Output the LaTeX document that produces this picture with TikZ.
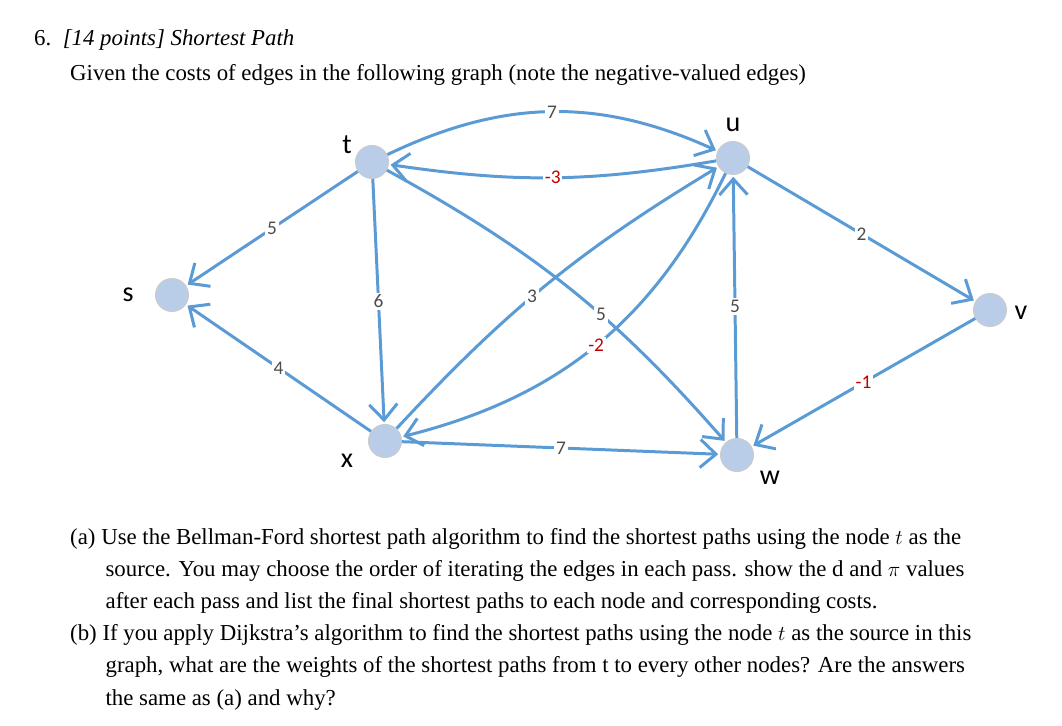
\documentclass[tikz,border=0pt]{standalone}
\usepackage{fontspec}
\setmainfont{Liberation Serif}
\newfontfamily\calfont{Carlito}
\usetikzlibrary{arrows.meta}
\definecolor{eb}{RGB}{91,155,213}
\definecolor{nf}{RGB}{185,205,232}
\definecolor{lr}{RGB}{192,0,0}
\begin{document}
\begin{tikzpicture}[x=0.02cm,y=-0.02cm,
  vx/.style={circle,minimum size=0.66cm,inner sep=0pt,fill=nf,draw=black!20,line width=0.6pt},
  ed/.style={draw=eb,line width=1.7pt,-{Straight Barb[length=9pt,width=16pt,line width=1.7pt]},shorten >=1pt},
  el/.style={fill=white,inner sep=1pt,font=\calfont\fontsize{11}{13}\selectfont,text=black!70},
  neg/.style={el,text=lr},
  nl/.style={font=\calfont\fontsize{16}{18}\selectfont},
  tx/.style={anchor=west,font=\fontsize{13}{18.3}\selectfont,align=left}]
\useasboundingbox (0,0) rectangle (1062,726);
\node[vx] (t) at (372,162) {};
\node[vx] (u) at (733,158) {};
\node[vx] (s) at (172,295) {};
\node[vx] (v) at (990,310) {};
\node[vx] (x) at (385,441) {};
\node[vx] (w) at (737,455) {};
\node[nl] (lt) at (347,145) {t};
\node[nl] (lu) at (733,125) {u};
\node[nl] (ls) at (128,295) {s};
\node[nl] (lv) at (1021,313) {v};
\node[nl] (lx) at (347,461) {x};
\node[nl] (lw) at (770,478) {w};
\draw[ed] (t) to[bend left=25] node[el] {7} (u);
\draw[ed] (u) to[bend left=9] node[neg] {-3} (t);
\draw[ed] (t) -- node[el] {5} (s);
\draw[ed] (x) -- node[el] {4} (s);
\draw[ed] (t) -- node[el] {6} (x);
\draw[ed] (x) to[bend left=8] node[el,pos=0.45] {3} (u);
\draw[ed] (u) to[bend left=25] node[neg] {-2} (x);
\draw[ed] (t) to[bend left=10] node[el,pos=0.6] {5} (w);
\draw[ed] (w) -- node[el] {5} (u);
\draw[ed] (u) -- node[el] {2} (v);
\draw[ed] (v) -- node[neg] {-1} (w);
\draw[ed] (x) -- node[el] {7} (w);
\node[tx] (h) at (28,40) {6.\enspace\textit{[14 points] Shortest Path}};
\node[tx] (g) at (64,75) {Given the costs of edges in the following graph (note the negative-valued edges)};
\node[tx,anchor=north west] (pa) at (64,522) {(a)\ Use the Bellman-Ford shortest path algorithm to find the shortest paths using the node $t$ as the\\
\hspace*{1.55em}source. You may choose the order of iterating the edges in each pass. show the d and $\pi$ values\\
\hspace*{1.55em}after each pass and list the final shortest paths to each node and corresponding costs.\\
(b)\ If you apply Dijkstra's algorithm to find the shortest paths using the node $t$ as the source in this\\
\hspace*{1.55em}graph, what are the weights of the shortest paths from t to every other nodes? Are the answers\\
\hspace*{1.55em}the same as (a) and why?};
\end{tikzpicture}
\end{document}
